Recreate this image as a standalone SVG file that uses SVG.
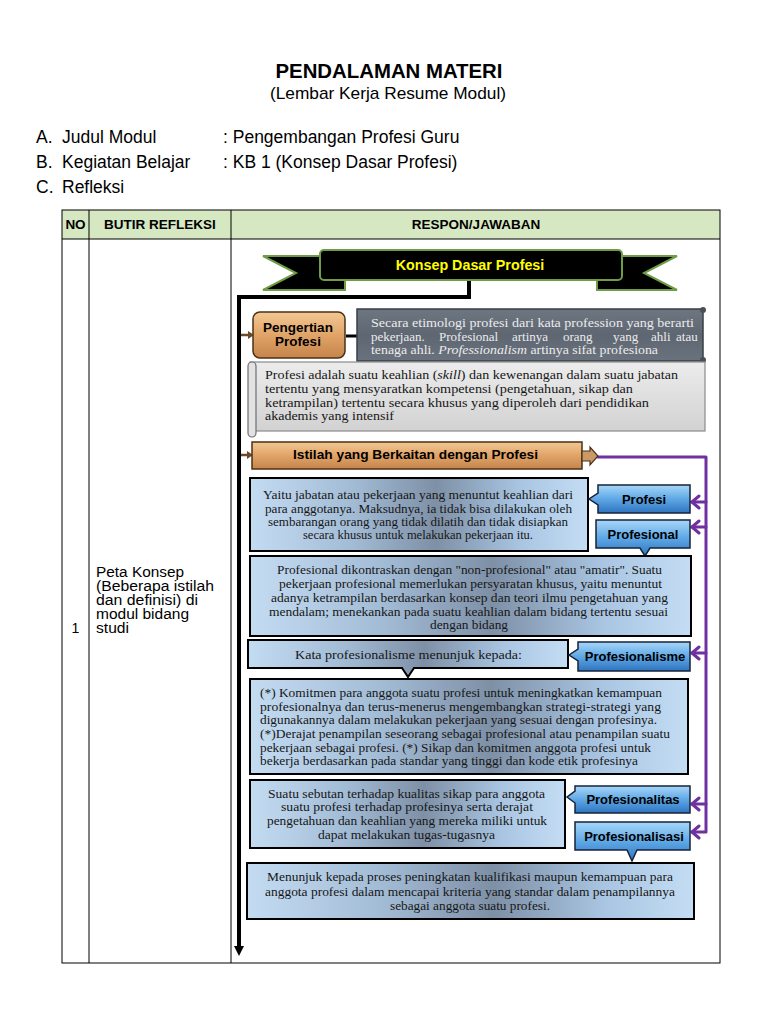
<svg xmlns="http://www.w3.org/2000/svg" width="768" height="1024" viewBox="0 0 768 1024">
<defs>
<style>
.sans{font-family:"Liberation Sans",Arial,sans-serif;fill:#000}
.b{font-weight:bold}
.ser{font-family:"Liberation Serif","Times New Roman",serif;font-size:13px;fill:#161616}
.lbl{font-family:"Liberation Sans",Arial,sans-serif;font-weight:bold;font-size:13px;fill:#000;text-anchor:middle}
.mid{text-anchor:middle}
.bluebox{fill:url(#gBlue);stroke:#000;stroke-width:2}
.label{fill:url(#gLbl);stroke:#14233a;stroke-width:1.5}
.pur{fill:none;stroke:#7030a0;stroke-width:3;stroke-linejoin:round;stroke-linecap:round}
.wood{fill:url(#gWood);stroke:#4a3018;stroke-width:1.5}
.tbl{fill:none;stroke:#000;stroke-width:1}
</style>
<linearGradient id="gBlue" x1="0" y1="0" x2="1" y2="0">
<stop offset="0" stop-color="#c4dcf2"/><stop offset="0.3" stop-color="#a3bcd6"/><stop offset="0.55" stop-color="#7e90a6"/><stop offset="0.8" stop-color="#a9c5e2"/><stop offset="1" stop-color="#c4ddf4"/>
</linearGradient>
<linearGradient id="gLbl" x1="0" y1="0" x2="0" y2="1">
<stop offset="0" stop-color="#a8d6f8"/><stop offset="0.5" stop-color="#5ea8e6"/><stop offset="1" stop-color="#2f74bf"/>
</linearGradient>
<linearGradient id="gWood" x1="0" y1="0" x2="0" y2="1">
<stop offset="0" stop-color="#f3c893"/><stop offset="0.5" stop-color="#e1a468"/><stop offset="1" stop-color="#c5844a"/>
</linearGradient>
<linearGradient id="gDark" x1="0" y1="0" x2="0" y2="1">
<stop offset="0" stop-color="#6e7682"/><stop offset="0.5" stop-color="#5e6672"/><stop offset="1" stop-color="#6a727e"/>
</linearGradient>
<linearGradient id="gLight" x1="0" y1="0" x2="0" y2="1">
<stop offset="0" stop-color="#ececec"/><stop offset="1" stop-color="#d2d2d2"/>
</linearGradient>
</defs>
<rect width="768" height="1024" fill="#fff"/>

<!-- heading -->
<text class="sans b mid" x="389" y="78" font-size="19.5" textLength="227" lengthAdjust="spacingAndGlyphs">PENDALAMAN MATERI</text>
<text class="sans mid" x="388" y="99" font-size="17" textLength="236" lengthAdjust="spacingAndGlyphs">(Lembar Kerja Resume Modul)</text>
<text class="sans" x="36" y="143" font-size="17.5">A.</text>
<text class="sans" x="62" y="143" font-size="17.5">Judul Modul</text>
<text class="sans" x="223" y="143" font-size="17.5">: Pengembangan Profesi Guru</text>
<text class="sans" x="36" y="168" font-size="17.5">B.</text>
<text class="sans" x="62" y="168" font-size="17.5">Kegiatan Belajar</text>
<text class="sans" x="223" y="168" font-size="17.5">: KB 1 (Konsep Dasar Profesi)</text>
<text class="sans" x="36" y="193" font-size="17.5">C.</text>
<text class="sans" x="62" y="193" font-size="17.5">Refleksi</text>

<!-- table -->
<g id="table">
<rect x="62" y="210" width="658" height="29" fill="#d6e8c2"/>
<rect class="tbl" x="62" y="210" width="658" height="753"/>
<line class="tbl" x1="62" y1="239" x2="720" y2="239"/>
<line class="tbl" x1="89" y1="210" x2="89" y2="963"/>
<line class="tbl" x1="231" y1="210" x2="231" y2="963"/>
<text class="sans b mid" x="75.5" y="229" font-size="13.5">NO</text>
<text class="sans b mid" x="160" y="229" font-size="13.5">BUTIR REFLEKSI</text>
<text class="sans b mid" x="476" y="229" font-size="13.5">RESPON/JAWABAN</text>
<text class="sans mid" x="75.5" y="633" font-size="14">1</text>
<text class="sans" x="96" y="577" font-size="14" textLength="88" lengthAdjust="spacingAndGlyphs">Peta Konsep</text>
<text class="sans" x="96" y="591" font-size="14" textLength="118" lengthAdjust="spacingAndGlyphs">(Beberapa istilah</text>
<text class="sans" x="96" y="605" font-size="14" textLength="102" lengthAdjust="spacingAndGlyphs">dan definisi) di</text>
<text class="sans" x="96" y="619" font-size="14" textLength="93" lengthAdjust="spacingAndGlyphs">modul bidang</text>
<text class="sans" x="96" y="633" font-size="14" textLength="33" lengthAdjust="spacingAndGlyphs">studi</text>
</g>

<!-- connectors -->
<g id="connectors">
<path d="M469,279 V297 H239 V948" fill="none" stroke="#000" stroke-width="4"/>
<polygon points="234,946 244,946 239,956" fill="#000"/>
<line x1="241" y1="335" x2="249" y2="335" stroke="#6b4a2b" stroke-width="2.5"/>
<polygon points="248,331 254,335 248,339" fill="#6b4a2b"/>
<line x1="241" y1="455" x2="248" y2="455" stroke="#6b4a2b" stroke-width="2.5"/>
<polygon points="247,451 253,455 247,459" fill="#6b4a2b"/>
<line x1="346" y1="336" x2="357" y2="336" stroke="#000" stroke-width="3"/>
<path class="pur" d="M598,457 H706 V832 H692"/>
<path class="pur" d="M706,502 H692 M706,527 H692 M706,653 H692 M706,804 H692"/>
<path class="pur" d="M699,496 L692,502 L699,508 M699,521 L692,527 L699,533 M699,647 L692,653 L699,659 M699,798 L692,804 L699,810 M699,826 L692,832 L699,838"/>
</g>

<!-- banner -->
<g id="banner">
<polygon points="263,256 345,256 345,290 263,290 296,273" fill="#000" stroke="#6e9d45" stroke-width="2"/>
<polygon points="677,256 597,256 597,290 677,290 644,273" fill="#000" stroke="#6e9d45" stroke-width="2"/>
<rect x="320" y="250" width="302" height="30" rx="4" fill="#000" stroke="#6e9d45" stroke-width="2"/>
<text class="sans b mid" x="470" y="270" font-size="14.3" style="fill:#ffff00">Konsep Dasar Profesi</text>
</g>

<g id="pengertian">
<rect class="wood" x="253" y="312" width="92" height="46" rx="7"/>
<text class="sans b mid" x="298" y="332" font-size="13.5">Pengertian</text>
<text class="sans b mid" x="298" y="346" font-size="13.5">Profesi</text>
</g>

<g id="etimologi">
<rect x="357" y="309" width="346" height="52" fill="url(#gDark)" stroke="#3a3f46" stroke-width="1.5"/>
<circle cx="703" cy="310" r="3" fill="#4a4f56"/>
<circle cx="703" cy="360" r="3" fill="#4a4f56"/>
<g class="ser" style="fill:#ececec">
<text x="371" y="327" textLength="323" lengthAdjust="spacingAndGlyphs">Secara etimologi profesi dari kata profession yang berarti</text>
<text y="341"><tspan x="371">pekerjaan.</tspan><tspan x="439">Profesional</tspan><tspan x="512">artinya</tspan><tspan x="563">orang</tspan><tspan x="613">yang</tspan><tspan x="651">ahli</tspan><tspan x="676">atau</tspan></text>
<text x="371" y="354" textLength="287" lengthAdjust="spacingAndGlyphs">tenaga ahli. <tspan font-style="italic">Professionalism</tspan> artinya sifat profesiona</text>
</g>
</g>

<g id="definisi">
<rect x="250" y="362" width="455" height="69" fill="url(#gLight)" stroke="#8a8a8a" stroke-width="1.2"/>
<rect x="248" y="362" width="8" height="75" rx="4" fill="#e2e2e2" stroke="#6e6e6e" stroke-width="1.2"/>
<g class="ser">
<text x="265" y="379" textLength="413" lengthAdjust="spacingAndGlyphs">Profesi adalah suatu keahlian (<tspan font-style="italic">skill</tspan>) dan kewenangan dalam suatu jabatan</text>
<text x="265" y="393" textLength="368" lengthAdjust="spacingAndGlyphs">tertentu yang mensyaratkan kompetensi (pengetahuan, sikap dan</text>
<text x="265" y="407" textLength="384" lengthAdjust="spacingAndGlyphs">ketrampilan) tertentu secara khusus yang diperoleh dari pendidikan</text>
<text x="265" y="420" textLength="129" lengthAdjust="spacingAndGlyphs">akademis yang intensif</text>
</g>
</g>

<g id="istilah">
<rect class="wood" x="252" y="442" width="330" height="27"/>
<polygon points="582,451 590,451 590,447 598,456 590,465 590,461 582,461" fill="#c99a68" stroke="#4a3018" stroke-width="1.2"/>
<text class="sans b mid" x="415.5" y="459" font-size="13.5" textLength="245" lengthAdjust="spacingAndGlyphs">Istilah yang Berkaitan dengan Profesi</text>
</g>

<g id="def-profesi">
<rect class="bluebox" x="250" y="478" width="338" height="73"/>
<g class="ser mid">
<text x="418" y="499" textLength="310" lengthAdjust="spacingAndGlyphs">Yaitu jabatan atau pekerjaan yang menuntut keahlian dari</text>
<text x="418.5" y="513" textLength="307" lengthAdjust="spacingAndGlyphs">para anggotanya. Maksudnya, ia tidak bisa dilakukan oleh</text>
<text x="418" y="526" textLength="300" lengthAdjust="spacingAndGlyphs">sembarangan orang yang tidak dilatih dan tidak disiapkan</text>
<text x="418" y="539" textLength="230" lengthAdjust="spacingAndGlyphs">secara khusus untuk melakukan pekerjaan itu.</text>
</g>
</g>

<g id="lbl-profesi">
<path class="label" d="M598,485 H690 V513 H598 V505 L589,499 L598,493 Z"/>
<text class="lbl" x="644" y="504">Profesi</text>
</g>

<g id="lbl-profesional">
<path class="label" d="M596,520 H690 V548 H650 L645,556 L640,548 H596 Z"/>
<text class="lbl" x="643" y="539">Profesional</text>
</g>

<g id="def-profesional">
<rect class="bluebox" x="250" y="556" width="441" height="80"/>
<g class="ser mid">
<text x="469.5" y="574" textLength="385" lengthAdjust="spacingAndGlyphs">Profesional dikontraskan dengan "non-profesional" atau "amatir". Suatu</text>
<text x="470.5" y="588" textLength="383" lengthAdjust="spacingAndGlyphs">pekerjaan profesional memerlukan persyaratan khusus, yaitu menuntut</text>
<text x="469.5" y="602" textLength="397" lengthAdjust="spacingAndGlyphs">adanya ketrampilan berdasarkan konsep dan teori ilmu pengetahuan yang</text>
<text x="468.5" y="616" textLength="399" lengthAdjust="spacingAndGlyphs">mendalam; menekankan pada suatu keahlian dalam bidang tertentu sesuai</text>
<text x="469" y="629" textLength="78" lengthAdjust="spacingAndGlyphs">dengan bidang</text>
</g>
</g>

<g id="kata">
<path class="bluebox" d="M248,640 H568 V668 H414 L408,677 L402,668 H248 Z"/>
<text class="ser mid" x="408.5" y="659" textLength="227" lengthAdjust="spacingAndGlyphs">Kata profesionalisme menunjuk kepada:</text>
</g>

<g id="lbl-profesionalisme">
<path class="label" d="M578,642 H690 V671 H578 V661 L569,655 L578,649 Z"/>
<text class="lbl" x="635" y="661">Profesionalisme</text>
</g>

<g id="def-profesionalisme">
<rect class="bluebox" x="250" y="679" width="438" height="95"/>
<g class="ser">
<text x="260" y="697" textLength="402" lengthAdjust="spacingAndGlyphs">(*) Komitmen para anggota suatu profesi untuk meningkatkan kemampuan</text>
<text x="260" y="711" textLength="401" lengthAdjust="spacingAndGlyphs">profesionalnya dan terus-menerus mengembangkan strategi-strategi yang</text>
<text x="260" y="724" textLength="397" lengthAdjust="spacingAndGlyphs">digunakannya dalam melakukan pekerjaan yang sesuai dengan profesinya.</text>
<text x="260" y="738" textLength="410" lengthAdjust="spacingAndGlyphs">(*)Derajat penampilan seseorang sebagai profesional atau penampilan suatu</text>
<text x="260" y="752" textLength="391" lengthAdjust="spacingAndGlyphs">pekerjaan sebagai profesi. (*) Sikap dan komitmen anggota profesi untuk</text>
<text x="260" y="765" textLength="378" lengthAdjust="spacingAndGlyphs">bekerja berdasarkan pada standar yang tinggi dan kode etik profesinya</text>
</g>
</g>

<g id="def-profesionalitas">
<rect class="bluebox" x="250" y="780" width="315" height="68"/>
<g class="ser mid">
<text x="406.5" y="798" textLength="277" lengthAdjust="spacingAndGlyphs">Suatu sebutan terhadap kualitas sikap para anggota</text>
<text x="407" y="811" textLength="252" lengthAdjust="spacingAndGlyphs">suatu profesi terhadap profesinya serta derajat</text>
<text x="407" y="825" textLength="280" lengthAdjust="spacingAndGlyphs">pengetahuan dan keahlian yang mereka miliki untuk</text>
<text x="406.5" y="839" textLength="177" lengthAdjust="spacingAndGlyphs">dapat melakukan tugas-tugasnya</text>
</g>
</g>

<g id="lbl-profesionalitas">
<path class="label" d="M575,786 H690 V813 H575 V803 L567,797 L575,791 Z"/>
<text class="lbl" x="633" y="804">Profesionalitas</text>
</g>

<g id="lbl-profesionalisasi">
<path class="label" d="M575,822 H690 V850 H637 L632,861 L627,850 H575 Z"/>
<text class="lbl" x="634" y="841">Profesionalisasi</text>
</g>

<g id="def-profesionalisasi">
<rect class="bluebox" x="247" y="863" width="447" height="56"/>
<g class="ser mid">
<text x="470" y="881" textLength="406" lengthAdjust="spacingAndGlyphs">Menunjuk kepada proses peningkatan kualifikasi maupun kemampuan para</text>
<text x="470" y="896" textLength="410" lengthAdjust="spacingAndGlyphs">anggota profesi dalam mencapai kriteria yang standar dalam penampilannya</text>
<text x="470" y="910" textLength="160" lengthAdjust="spacingAndGlyphs">sebagai anggota suatu profesi.</text>
</g>
</g>
</svg>
